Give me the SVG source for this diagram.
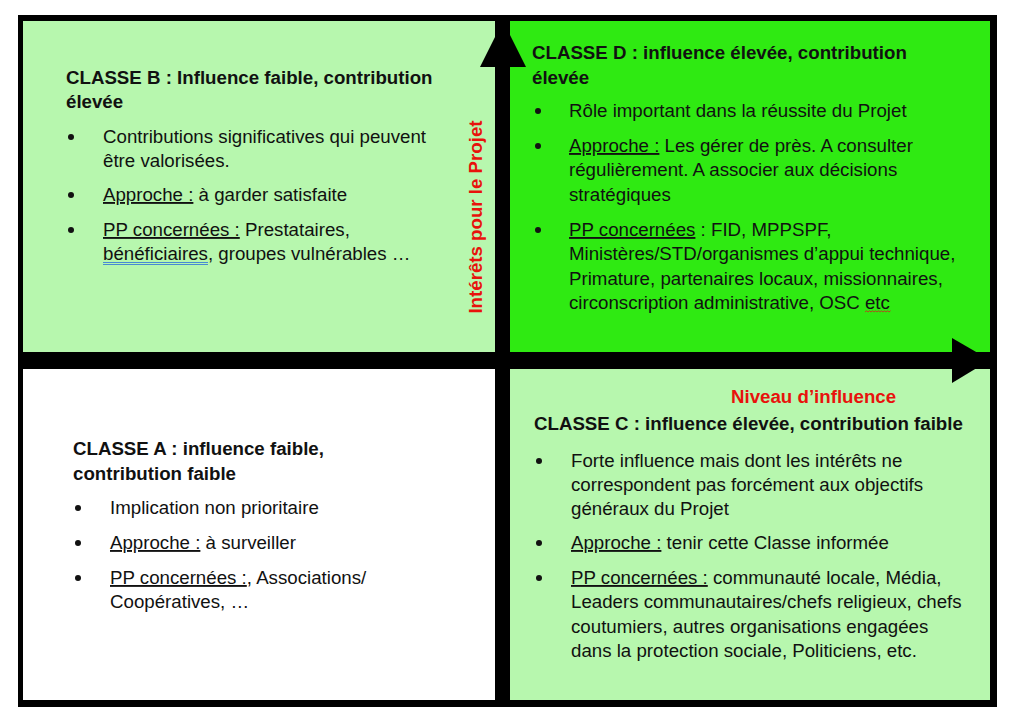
<svg xmlns="http://www.w3.org/2000/svg" width="1012" height="723" viewBox="0 0 1012 723">
<style>
text{font-family:"Liberation Sans",Arial,sans-serif;font-size:18.7px;fill:#111}
.b{font-weight:bold}
.red{fill:#e8120c;font-weight:bold}
.u{text-decoration:underline}
.lg{fill:#b7f7ae}
.dg{fill:#2fea12}
.bul{fill:#111}
</style>
<rect x="0" y="0" width="1012" height="723" fill="#fff"/>
<rect x="18" y="15" width="979" height="692" fill="#000"/>
<g id="classeB">
<rect class="lg" x="23" y="21" width="472" height="331"/>
<text class="b" x="66" y="84">CLASSE B : Influence faible, contribution</text>
<text class="b" x="66" y="108">élevée</text>
<circle class="bul" cx="71" cy="137" r="3"/>
<text x="103" y="143">Contributions significatives qui peuvent</text>
<text x="103" y="167">être valorisées.</text>
<circle class="bul" cx="71" cy="195" r="3"/>
<text x="103" y="201"><tspan class="u">Approche :</tspan> à garder satisfaite</text>
<circle class="bul" cx="71" cy="230" r="3"/>
<text x="103" y="236"><tspan class="u">PP concernées :</tspan> Prestataires,</text>
<text x="103" y="260">bénéficiaires, groupes vulnérables …</text>
<path d="M103 262.5H208M103 264.5H208" stroke="#3b7dd8" stroke-width="0.9" fill="none"/>
</g>
<g id="classeD">
<rect class="dg" x="510" y="21" width="480" height="331"/>
<text class="b" x="532" y="59">CLASSE D : influence élevée, contribution</text>
<text class="b" x="532" y="84">élevée</text>
<circle class="bul" cx="538" cy="111" r="3"/>
<text x="569" y="117">Rôle important dans la réussite du Projet</text>
<circle class="bul" cx="538" cy="146" r="3"/>
<text x="569" y="152"><tspan class="u">Approche :</tspan> Les gérer de près. A consulter</text>
<text x="569" y="176">régulièrement. A associer aux décisions</text>
<text x="569" y="201">stratégiques</text>
<circle class="bul" cx="538" cy="230" r="3"/>
<text x="569" y="236"><tspan class="u">PP concernées</tspan> : FID, MPPSPF,</text>
<text x="569" y="260">Ministères/STD/organismes d’appui technique,</text>
<text x="569" y="285">Primature, partenaires locaux, missionnaires,</text>
<text x="569" y="309">circonscription administrative, OSC etc</text>
<path d="M865 312l1.5-1.2 1.5 1.2 1.5-1.2 1.5 1.2 1.5-1.2 1.5 1.2 1.5-1.2 1.5 1.2 1.5-1.2 1.5 1.2 1.5-1.2 1.5 1.2 1.5-1.2 1.5 1.2 1.5-1.2 1.5 1.2 1.5-1.2" stroke="#d42020" stroke-width="0.8" fill="none"/>
</g>
<g id="classeA">
<rect fill="#fff" x="23" y="369" width="472" height="331"/>
<text class="b" x="73" y="455">CLASSE A : influence faible,</text>
<text class="b" x="73" y="480">contribution faible</text>
<circle class="bul" cx="78" cy="508" r="3"/>
<text x="110" y="514">Implication non prioritaire</text>
<circle class="bul" cx="78" cy="543" r="3"/>
<text x="110" y="549"><tspan class="u">Approche :</tspan> à surveiller</text>
<circle class="bul" cx="78" cy="578" r="3"/>
<text x="110" y="584"><tspan class="u">PP concernées :</tspan>, Associations/</text>
<text x="110" y="608">Coopératives, …</text>
</g>
<g id="classeC">
<rect class="lg" x="510" y="369" width="480" height="331"/>
<text class="b" x="534" y="430">CLASSE C : influence élevée, contribution faible</text>
<circle class="bul" cx="539" cy="461" r="3"/>
<text x="571" y="467">Forte influence mais dont les intérêts ne</text>
<text x="571" y="491">correspondent pas forcément aux objectifs</text>
<text x="571" y="515">généraux du Projet</text>
<circle class="bul" cx="539" cy="543" r="3"/>
<text x="571" y="549"><tspan class="u">Approche :</tspan> tenir cette Classe informée</text>
<circle class="bul" cx="539" cy="578" r="3"/>
<text x="571" y="584"><tspan class="u">PP concernées :</tspan> communauté locale, Média,</text>
<text x="571" y="608">Leaders communautaires/chefs religieux, chefs</text>
<text x="571" y="633">coutumiers, autres organisations engagées</text>
<text x="571" y="657">dans la protection sociale, Politiciens, etc.</text>
</g>
<g id="axes">
<rect x="495" y="60" width="15" height="640" fill="#000"/>
<polygon points="503,21 480,67 526,67" fill="#000"/>
<rect x="23" y="352" width="935" height="17" fill="#000"/>
<polygon points="952,338 990,360 952,383" fill="#000"/>
</g>
<g id="axisLabels">
<text class="red" transform="translate(482,217) rotate(-90)" text-anchor="middle">Intérêts pour le Projet</text>
<text class="red" x="731" y="403">Niveau d’influence</text>
</g>
</svg>
